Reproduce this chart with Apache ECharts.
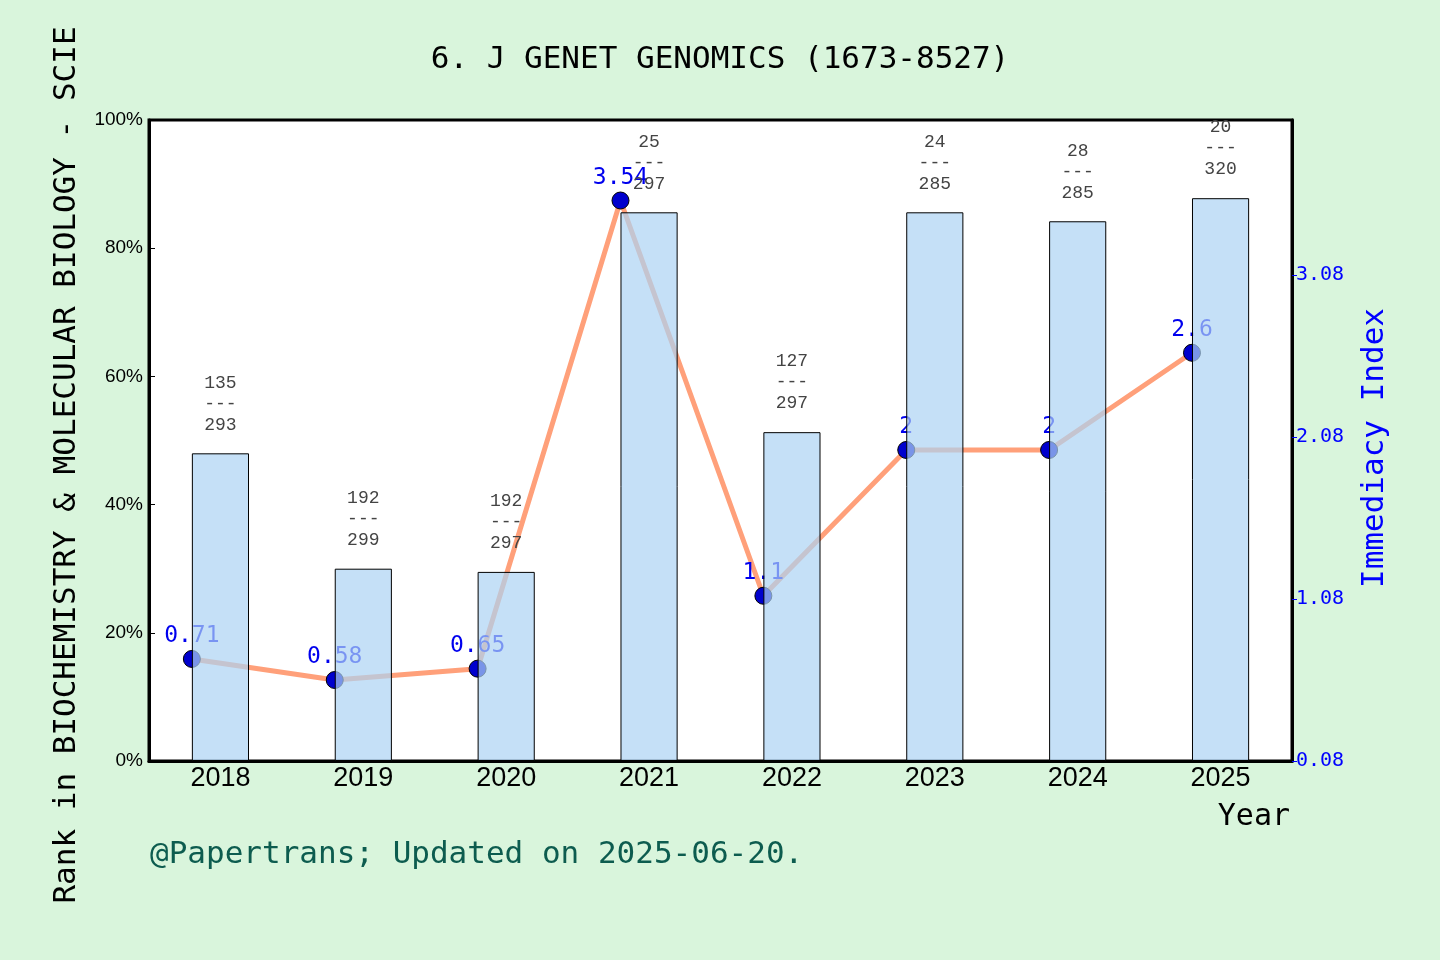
<!DOCTYPE html>
<html>
<head>
<meta charset="utf-8">
<script src="https://cdn.jsdelivr.net/npm/echarts@6/dist/echarts.min.js"></script>
<style>
  html, body { margin: 0; padding: 0; background: #d9f5dc; }
  #main { width: 1440px; height: 960px; }
</style>
</head>
<body>
<div id="main"></div>
<script>
const years = ["2018", "2019", "2020", "2021", "2022", "2023", "2024", "2025"];
const rankPercent = [48.0, 30.0, 29.5, 85.6, 51.3, 85.6, 84.2, 87.8];
const ranks = [135, 192, 192, 25, 127, 24, 28, 20];
const totals = [293, 299, 297, 297, 297, 285, 285, 320];
const immediacy = [0.71, 0.58, 0.65, 3.54, 1.1, 2, 2, 2.6];
const rightTicks = [0.08, 1.08, 2.08, 3.08];

const mono = "DejaVu Sans Mono";
const sans = "Liberation Sans";
const barFrac = 0.4;

const chart = echarts.init(document.getElementById("main"));
chart.setOption({
  backgroundColor: "#d9f5dc",
  animation: false,
  title: {
    text: "6. J GENET GENOMICS (1673-8527)",
    left: "center",
    top: 39,
    textStyle: { fontFamily: mono, fontSize: 31, fontWeight: "normal", color: "#000" },
  },
  grid: {
    left: 149, right: 148, top: 120, bottom: 199,
    show: true, backgroundColor: "#fff", borderColor: "#000", borderWidth: 3,
  },
  xAxis: [
    {
      type: "category",
      data: years,
      axisLine: { onZero: false, lineStyle: { color: "#000", width: 3 } },
      axisTick: { inside: true, length: 6, lineStyle: { color: "#000" } },
      axisLabel: { color: "#000", fontFamily: sans, fontSize: 27, margin: 4 },
    },
    { type: "value", min: -0.5, max: 7.5, show: false },
  ],
  yAxis: [
    {
      type: "value", min: 0, max: 100, interval: 20,
      axisLine: { show: true, onZero: false, lineStyle: { color: "#000", width: 3 } },
      axisTick: { show: true, inside: true, length: 6, lineStyle: { color: "#000" } },
      axisLabel: { formatter: "{value}%", color: "#000", fontFamily: sans, fontSize: 19, margin: 6 },
      splitLine: { show: false },
    },
    {
      type: "value", min: 0.08, max: 4.037, position: "right",
      axisLine: { show: true, onZero: false, lineStyle: { color: "#000", width: 3 } },
      axisTick: { show: true, length: 5, customValues: rightTicks, lineStyle: { color: "#0000ff" } },
      axisLabel: {
        customValues: rightTicks, color: "#0000ff", fontFamily: mono, fontSize: 20, margin: 4,
        formatter: (v) => v.toFixed(2),
      },
      splitLine: { show: false },
    },
  ],
  graphic: [
    {
      type: "text", x: 67, y: 465, rotation: Math.PI / 2,
      style: {
        text: "Rank in BIOCHEMISTRY & MOLECULAR BIOLOGY - SCIE",
        font: "31px " + mono, fill: "#000", textAlign: "center", textVerticalAlign: "middle",
      },
    },
    {
      type: "text", x: 1375, y: 448, rotation: Math.PI / 2,
      style: {
        text: "Immediacy Index",
        font: "31px " + mono, fill: "#0000ff", textAlign: "center", textVerticalAlign: "middle",
      },
    },
    {
      type: "text", x: 1290, y: 817,
      style: { text: "Year", font: "30px " + mono, fill: "#000", textAlign: "right", textVerticalAlign: "middle" },
    },
    {
      type: "text", x: 150, y: 855,
      style: {
        text: "@Papertrans; Updated on 2025-06-20.",
        font: "31px " + mono, fill: "#0d5c4f", textAlign: "left", textVerticalAlign: "middle",
      },
    },
  ],
  series: [
    {
      type: "line",
      xAxisIndex: 1,
      yAxisIndex: 1,
      z: 2,
      data: immediacy.map((v, i) => [i - barFrac / 2, v]),
      symbol: "circle",
      symbolSize: 17,
      itemStyle: { color: "#0000cd", borderColor: "#000", borderWidth: 1 },
      lineStyle: { color: "#ffa07a", width: 5 },
      label: {
        show: true, position: "top", distance: 2,
        color: "#0000ee", fontFamily: mono, fontSize: 23,
        formatter: (p) => String(p.value[1]),
      },
    },
    {
      type: "bar",
      xAxisIndex: 0,
      yAxisIndex: 0,
      z: 3,
      barWidth: barFrac * 100 + "%",
      data: rankPercent,
      itemStyle: { color: "rgba(172,211,244,0.7)", borderColor: "#000", borderWidth: 1 },
      label: {
        show: true, position: "top", distance: 18,
        color: "#444", fontFamily: "Liberation Mono", fontSize: 18, lineHeight: 21,
        formatter: (p) => ranks[p.dataIndex] + "\n---\n" + totals[p.dataIndex],
      },
    },
  ],
});
</script>
</body>
</html>
